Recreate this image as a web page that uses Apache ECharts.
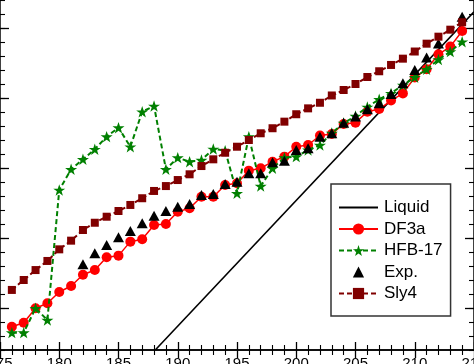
<!DOCTYPE html>
<html><head><meta charset="utf-8">
<script src="https://cdn.jsdelivr.net/npm/echarts@6/dist/echarts.min.js"></script>
<style>html,body{margin:0;padding:0;background:#fff}#c{width:474px;height:364px}</style>
</head><body><div id="c"></div>
<script>
// Mass numbers A
const massNumbers = [176,177,178,179,180,181,182,183,184,185,186,187,188,189,190,191,192,193,194,195,196,197,198,199,200,201,202,203,204,205,206,207,208,209,210,211,212,213,214];
const df3a  = [1.66,1.95,2.98,3.34,4.14,4.57,5.38,5.71,6.62,6.74,7.74,7.91,8.93,9.00,9.88,10.12,10.95,10.95,11.79,11.91,12.81,12.98,13.45,13.81,14.52,14.64,15.32,15.43,16.14,16.24,17.02,17.21,17.82,18.33,19.46,20.05,21.12,21.67,22.79];
const hfb17 = [1.24,1.24,2.98,2.14,11.43,12.91,13.62,14.34,15.24,15.88,14.52,17.02,17.43,12.91,13.74,13.45,13.57,14.36,14.24,11.19,15.24,11.71,12.98,13.74,13.81,14.29,14.64,15.50,16.21,16.71,17.36,17.91,18.33,18.93,19.48,20.05,20.75,21.31,22.02];
const expData = [null,null,null,null,null,null,6.12,6.91,7.50,8.05,8.50,9.05,9.59,9.93,10.24,10.43,11.07,11.14,11.86,12.02,12.62,12.62,13.41,13.52,14.29,14.41,15.24,15.48,16.24,16.67,17.19,17.62,18.29,19.05,20.00,20.90,21.90,null,23.81];
const sly4  = [4.29,5.00,5.71,6.36,7.19,7.81,8.57,9.09,9.52,9.93,10.36,10.84,11.36,11.71,12.14,12.55,13.14,13.62,14.09,14.52,15.00,15.48,15.84,16.31,16.84,17.26,17.66,18.18,18.57,19.00,19.50,19.91,20.36,20.81,21.32,21.88,22.38,22.88,23.41];
const liquidA = [188.1, 215];
const liquidV = [0, 24.16];
const xTicksMajor = [175,180,185,190,195,200,205,210,215];
const yTicksMajor = [3,8,13,18,23];

const pairs = (xs, ys) => xs.map((x,i)=>[x, ys[i]]).filter(p => p[1] !== null);
const STAR = 'path://M50,0 L61.8,35.1 L98.1,35.1 L68.8,56.8 L79.4,91.5 L50,70 L20.6,91.5 L31.2,56.8 L1.9,35.1 L38.2,35.1 Z';
const FONT = '"Liberation Sans", Arial, sans-serif';

const chart = echarts.init(document.getElementById('c'), null, {renderer:'canvas'});
const axisLine = {show:true, lineStyle:{color:'#000', width:1.5}};
const xCommon = (pos, labels) => ({
  type:'value', position:pos, min:175, max:215, interval:5,
  axisLine, splitLine:{show:false},
  axisTick:{show:true, inside:true, length:8, lineStyle:{color:'#000', width:1.3}},
  minorTick:{show:true, splitNumber:5, length:5, lineStyle:{color:'#000', width:1.1}},
  axisLabel:{show:labels, fontSize:15, fontFamily:FONT, color:'#000', margin:6,
             customValues: xTicksMajor, alignMinLabel:'center', alignMaxLabel:'center', hideOverlap:false}
});
const yMinor = (pos) => ({
  type:'value', position:pos, min:0, max:25, interval:1,
  axisLine, splitLine:{show:false},
  axisTick:{show:true, inside:true, length:5, lineStyle:{color:'#000', width:1.1}},
  axisLabel:{show:false}
});
const yMajor = (pos) => ({
  type:'value', position:pos, min:0, max:25,
  axisLine:{show:false}, splitLine:{show:false},
  axisTick:{show:true, inside:true, length:9, customValues: yTicksMajor, lineStyle:{color:'#000', width:1.3}},
  axisLabel:{show:false, customValues: yTicksMajor}
});

chart.setOption({
  animation:false,
  backgroundColor:'#fff',
  grid:{left:0, right:0, top:0, bottom:14, containLabel:false, outerBoundsMode:'none'},
  xAxis:[xCommon('bottom', true), xCommon('top', false)],
  yAxis:[yMinor('left'), yMajor('left'), yMinor('right'), yMajor('right')],
  legend:{
    orient:'vertical', left:331, top:184,
    padding:[15,8,14,7], itemGap:4.5, itemWidth:39, itemHeight:14,
    backgroundColor:'#fff', borderColor:'#333', borderWidth:1.5, borderRadius:0,
    textStyle:{fontSize:17, fontFamily:FONT, color:'#000', padding:[0,0,0,1]},
    data:[{name:'Liquid', itemStyle:{opacity:0}},'DF3a','HFB-17','Exp.','Sly4']
  },
  series:[
    {name:'Liquid', type:'line', data:pairs(liquidA, liquidV), symbol:'none',
     lineStyle:{color:'#000', width:1.6}, itemStyle:{color:'#000'}, z:2},
    {name:'DF3a', type:'line', data:pairs(massNumbers, df3a), symbol:'circle', symbolSize:10,
     lineStyle:{color:'#ff0000', width:1.5}, itemStyle:{color:'#ff0000'}, z:3},
    {name:'HFB-17', type:'line', data:pairs(massNumbers, hfb17), symbol:STAR, symbolSize:12, symbolKeepAspect:true,
     lineStyle:{color:'#008000', width:2, type:[5,3]}, itemStyle:{color:'#008000'}, z:4},
    {name:'Exp.', type:'line', data:pairs(massNumbers, expData), symbol:'triangle', symbolSize:[11,10],
     lineStyle:{opacity:0, width:0}, itemStyle:{color:'#000'}, z:5},
    {name:'Sly4', type:'line', data:pairs(massNumbers, sly4), symbol:'rect', symbolSize:8,
     lineStyle:{color:'#800000', width:2, type:[5,3]}, itemStyle:{color:'#800000'}, z:6}
  ]
});
</script></body></html>
